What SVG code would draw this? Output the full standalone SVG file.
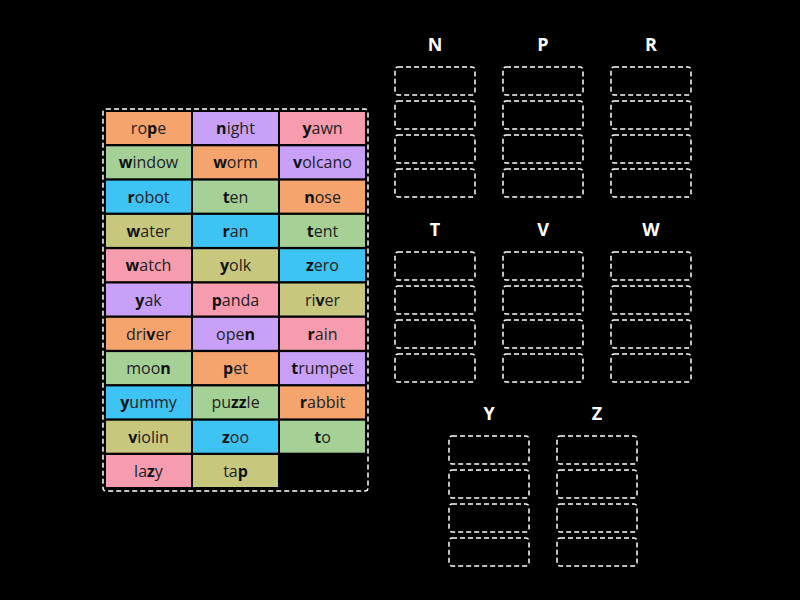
<svg xmlns="http://www.w3.org/2000/svg" width="800" height="600" viewBox="0 0 800 600">
<style>
.o{fill:#F6A46E}.p{fill:#C9A0F8}.k{fill:#F79CAE}.g{fill:#A5D196}.b{fill:#3EC3F5}.v{fill:#C8C77E}
.w{font-family:"Open Sans","Liberation Sans",sans-serif;font-size:16px;fill:#222;text-anchor:middle}
.w tspan{font-weight:bold;fill:#111}
.h{font-family:"Open Sans","Liberation Sans",sans-serif;font-size:18px;font-weight:bold;fill:#fff;text-anchor:middle}
.d{fill:none;stroke:#fff;stroke-width:1.5;stroke-dasharray:5 3}
</style>
<rect width="800" height="600" fill="#000"/>
<g id="grid">
<rect class="d" x="103" y="109" width="265" height="382" rx="3"/>
<rect class="o" x="106" y="112" width="85" height="32"/><text class="w" x="148.5" y="134">ro<tspan>p</tspan>e</text>
<rect class="p" x="193" y="112" width="85" height="32"/><text class="w" x="235.5" y="134"><tspan>n</tspan>ight</text>
<rect class="k" x="280" y="112" width="85" height="32"/><text class="w" x="322.5" y="134"><tspan>y</tspan>awn</text>
<rect class="g" x="106" y="146.3" width="85" height="32"/><text class="w" x="148.5" y="168.3"><tspan>w</tspan>indow</text>
<rect class="o" x="193" y="146.3" width="85" height="32"/><text class="w" x="235.5" y="168.3"><tspan>w</tspan>orm</text>
<rect class="p" x="280" y="146.3" width="85" height="32"/><text class="w" x="322.5" y="168.3"><tspan>v</tspan>olcano</text>
<rect class="b" x="106" y="180.6" width="85" height="32"/><text class="w" x="148.5" y="202.6"><tspan>r</tspan>obot</text>
<rect class="g" x="193" y="180.6" width="85" height="32"/><text class="w" x="235.5" y="202.6"><tspan>t</tspan>en</text>
<rect class="o" x="280" y="180.6" width="85" height="32"/><text class="w" x="322.5" y="202.6"><tspan>n</tspan>ose</text>
<rect class="v" x="106" y="214.9" width="85" height="32"/><text class="w" x="148.5" y="236.9"><tspan>w</tspan>ater</text>
<rect class="b" x="193" y="214.9" width="85" height="32"/><text class="w" x="235.5" y="236.9"><tspan>r</tspan>an</text>
<rect class="g" x="280" y="214.9" width="85" height="32"/><text class="w" x="322.5" y="236.9"><tspan>t</tspan>ent</text>
<rect class="k" x="106" y="249.2" width="85" height="32"/><text class="w" x="148.5" y="271.2"><tspan>w</tspan>atch</text>
<rect class="v" x="193" y="249.2" width="85" height="32"/><text class="w" x="235.5" y="271.2"><tspan>y</tspan>olk</text>
<rect class="b" x="280" y="249.2" width="85" height="32"/><text class="w" x="322.5" y="271.2"><tspan>z</tspan>ero</text>
<rect class="p" x="106" y="283.5" width="85" height="32"/><text class="w" x="148.5" y="305.5"><tspan>y</tspan>ak</text>
<rect class="k" x="193" y="283.5" width="85" height="32"/><text class="w" x="235.5" y="305.5"><tspan>p</tspan>anda</text>
<rect class="v" x="280" y="283.5" width="85" height="32"/><text class="w" x="322.5" y="305.5">ri<tspan>v</tspan>er</text>
<rect class="o" x="106" y="317.8" width="85" height="32"/><text class="w" x="148.5" y="339.8">dri<tspan>v</tspan>er</text>
<rect class="p" x="193" y="317.8" width="85" height="32"/><text class="w" x="235.5" y="339.8">ope<tspan>n</tspan></text>
<rect class="k" x="280" y="317.8" width="85" height="32"/><text class="w" x="322.5" y="339.8"><tspan>r</tspan>ain</text>
<rect class="g" x="106" y="352.1" width="85" height="32"/><text class="w" x="148.5" y="374.1">moo<tspan>n</tspan></text>
<rect class="o" x="193" y="352.1" width="85" height="32"/><text class="w" x="235.5" y="374.1"><tspan>p</tspan>et</text>
<rect class="p" x="280" y="352.1" width="85" height="32"/><text class="w" x="322.5" y="374.1"><tspan>t</tspan>rumpet</text>
<rect class="b" x="106" y="386.4" width="85" height="32"/><text class="w" x="148.5" y="408.4"><tspan>y</tspan>ummy</text>
<rect class="g" x="193" y="386.4" width="85" height="32"/><text class="w" x="235.5" y="408.4">pu<tspan>zz</tspan>le</text>
<rect class="o" x="280" y="386.4" width="85" height="32"/><text class="w" x="322.5" y="408.4"><tspan>r</tspan>abbit</text>
<rect class="v" x="106" y="420.7" width="85" height="32"/><text class="w" x="148.5" y="442.7"><tspan>v</tspan>iolin</text>
<rect class="b" x="193" y="420.7" width="85" height="32"/><text class="w" x="235.5" y="442.7"><tspan>z</tspan>oo</text>
<rect class="g" x="280" y="420.7" width="85" height="32"/><text class="w" x="322.5" y="442.7"><tspan>t</tspan>o</text>
<rect class="k" x="106" y="455" width="85" height="32"/><text class="w" x="148.5" y="477">la<tspan>z</tspan>y</text>
<rect class="v" x="193" y="455" width="85" height="32"/><text class="w" x="235.5" y="477">ta<tspan>p</tspan></text>
</g>
<defs>
<g id="col"><rect class="d" x="0" y="0" width="80" height="28" rx="3"/><rect class="d" x="0" y="34" width="80" height="28" rx="3"/><rect class="d" x="0" y="68" width="80" height="28" rx="3"/><rect class="d" x="0" y="102" width="80" height="28" rx="3"/></g>
</defs>
<g id="N"><text class="h" x="435" y="51">N</text><use href="#col" x="395" y="67"/></g>
<g id="P"><text class="h" x="543" y="51">P</text><use href="#col" x="503" y="67"/></g>
<g id="R"><text class="h" x="651" y="51">R</text><use href="#col" x="611" y="67"/></g>
<g id="T"><text class="h" x="435" y="236">T</text><use href="#col" x="395" y="252"/></g>
<g id="V"><text class="h" x="543" y="236">V</text><use href="#col" x="503" y="252"/></g>
<g id="W"><text class="h" x="651" y="236">W</text><use href="#col" x="611" y="252"/></g>
<g id="Y"><text class="h" x="489" y="420">Y</text><use href="#col" x="449" y="436"/></g>
<g id="Z"><text class="h" x="597" y="420">Z</text><use href="#col" x="557" y="436"/></g>
</svg>
